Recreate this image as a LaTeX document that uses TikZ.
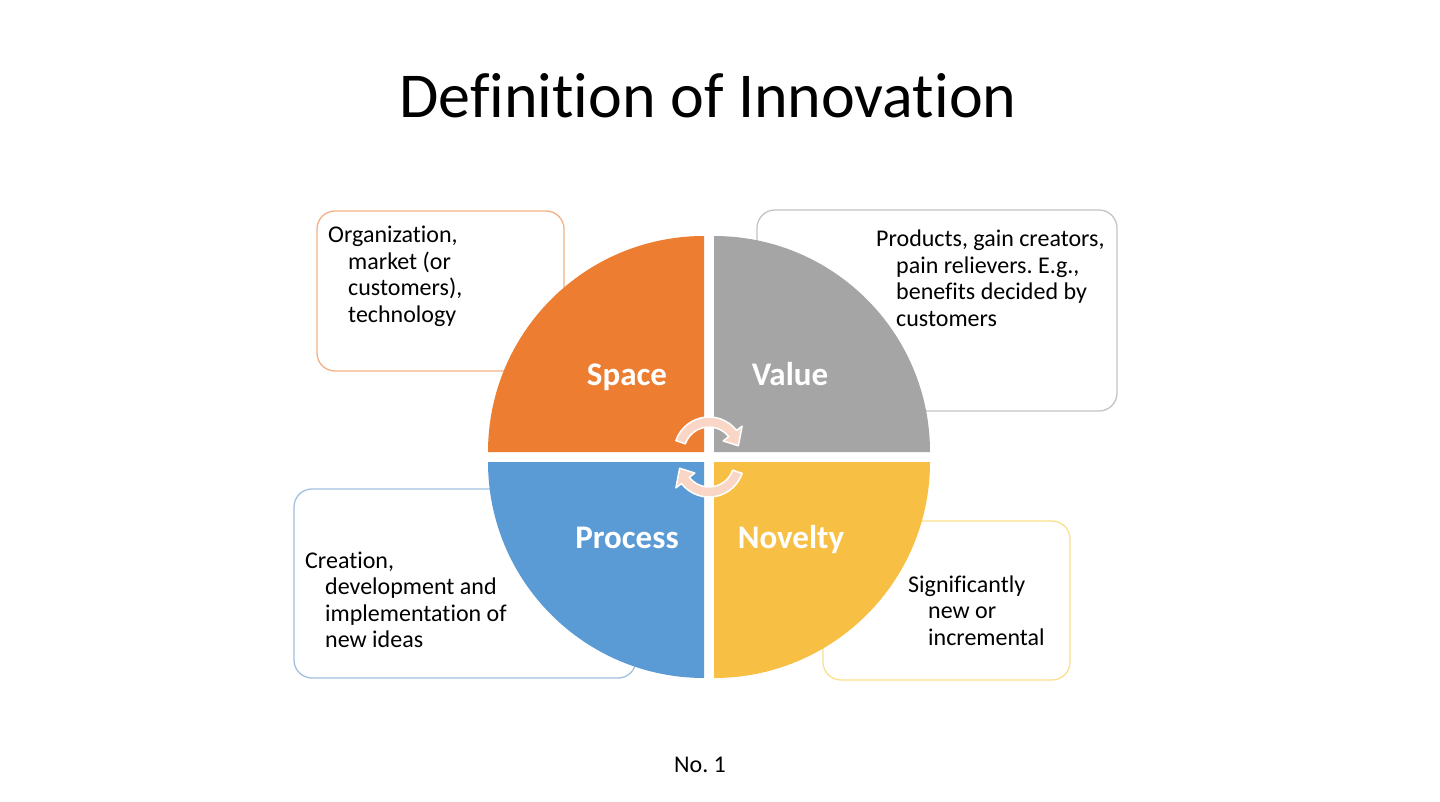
\documentclass[tikz,border=0pt]{standalone}
\usepackage{fontspec}
\setmainfont{Carlito}[Ligatures=NoCommon]
\frenchspacing
\definecolor{spaceorange}{HTML}{ED7D31}
\definecolor{valuegray}{HTML}{A5A5A5}
\definecolor{processblue}{HTML}{5B9BD5}
\definecolor{noveltyyellow}{HTML}{F7C045}
\definecolor{spaceline}{HTML}{F4B183}
\definecolor{valueline}{HTML}{C4C4C4}
\definecolor{processline}{HTML}{A2C1DE}
\definecolor{noveltyline}{HTML}{FBE08E}
\definecolor{arrowpink}{HTML}{F9D6C6}
\tikzset{
	infobox/.style={fill=white, line width=1.3pt, rounded corners=18pt},
	infotext/.style={anchor=base west, inner sep=0pt, align=left, font=\fontsize{24}{26.5}\selectfont},
	quarterlabel/.style={anchor=base, inner sep=0pt, text=white, font=\fontsize{33}{40}\selectfont\bfseries},
	cyclearrow/.style={fill=arrowpink, draw=white, line width=1.5pt, line join=round}
}
\newcommand{\drawquarter}[4]{   % x, y, start angle, colour
	\fill[color=#4] (#1, #2) -- ++(#3:216) arc[start angle=#3, end angle=#3+90, radius=216] -- cycle;
}
\newcommand{\ind}{\hspace*{20pt}}
\begin{document}
\begin{tikzpicture}[x=1pt, y=1pt]
\useasboundingbox (0, 0) rectangle (1440, -802);
\fill[white] (0, 0) rectangle (1440, -802);

\node[anchor=base, inner sep=0pt, font=\fontsize{64}{70}\selectfont] (title) at (708, -118) {Definition of Innovation};

% boxes behind the circle
\draw[infobox, draw=spaceline] (317, -211) rectangle (564, -371);
\draw[infobox, draw=valueline] (757, -210) rectangle (1117, -411);
\draw[infobox, draw=processline] (294, -489) rectangle (636, -678);
\draw[infobox, draw=noveltyline] (823, -521) rectangle (1070, -680);

% base of a text node is its last line
\node[infotext] (spacetext) at (328, -322.5) {Organization,\\\ind market (or\\\ind customers),\\\ind technology};
\node[infotext] (valuetext) at (876, -326.5) {Products, gain creators,\\\ind pain relievers. E.g.,\\\ind benefits decided by\\\ind customers};
\node[infotext] (processtext) at (305, -647.5) {Creation,\\\ind development and\\\ind implementation of\\\ind new ideas};
\node[infotext] (noveltytext) at (908, -645) {Significantly\\\ind new or\\\ind incremental};

% the four quarters
\drawquarter{704}{-452}{90}{spaceorange};
\drawquarter{714}{-452}{0}{valuegray};
\drawquarter{704}{-462}{180}{processblue};
\drawquarter{714}{-462}{270}{noveltyyellow};

\node[quarterlabel] (space) at (627, -385) {Space};
\node[quarterlabel] (value) at (790, -385) {Value};
\node[quarterlabel] (process) at (627, -548) {Process};
\node[quarterlabel] (novelty) at (791, -548) {Novelty};

% cycle arrows
\filldraw[cyclearrow, shift={(709, -452)}] (161:35) arc[start angle=161, end angle=38, radius=35]
	-- (38:42) -- (12:30) -- (38:18) -- (38:25) arc[start angle=38, end angle=161, radius=25] -- cycle;
\filldraw[cyclearrow, shift={(709, -462)}] (-19:35) arc[start angle=-19, end angle=-142, radius=35]
	-- (-142:42) -- (-168:30) -- (-142:18) -- (-142:25) arc[start angle=-142, end angle=-19, radius=25] -- cycle;

\node[anchor=base, inner sep=0pt, font=\fontsize{24}{28}\selectfont] (pageno) at (700, -772) {No. 1};
\end{tikzpicture}
\end{document}
